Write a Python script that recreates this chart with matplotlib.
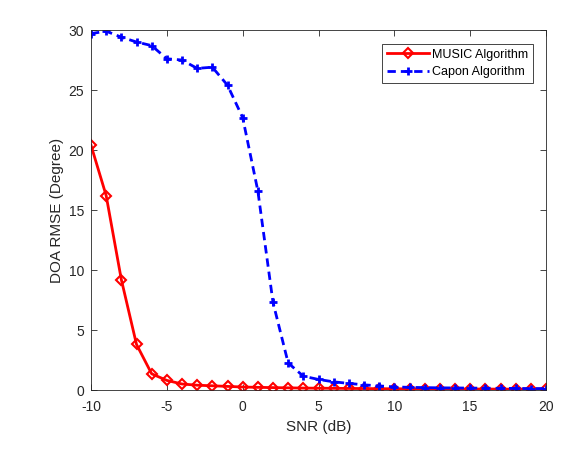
import matplotlib
matplotlib.use("Agg")
import matplotlib.pyplot as plt
from matplotlib.lines import Line2D

snr = list(range(-10, 21))
music = [20.4, 16.2, 9.2, 3.8, 1.35, 0.8, 0.5, 0.4, 0.35, 0.3, 0.25, 0.22, 0.2, 0.18, 0.16,
         0.15, 0.14, 0.13, 0.12, 0.11, 0.1, 0.1, 0.09, 0.09, 0.08, 0.08, 0.08, 0.07, 0.07, 0.07, 0.07]
capon = [29.7, 29.9, 29.4, 29.0, 28.7, 27.6, 27.5, 26.8, 26.9, 25.4, 22.7, 16.6, 7.3, 2.25, 1.15,
         0.88, 0.68, 0.55, 0.43, 0.34, 0.26, 0.22, 0.2, 0.18, 0.17, 0.16, 0.15, 0.14, 0.13, 0.12, 0.12]
xticks = [-10, -5, 0, 5, 10, 15, 20]
yticks = [0, 5, 10, 15, 20, 25, 30]

plt.rcParams['font.family'] = ['Liberation Sans', 'DejaVu Sans']
plt.rcParams['axes.unicode_minus'] = False
TXT = '#262626'

fig = plt.figure(figsize=(5.82, 4.49), dpi=100)
ax = fig.add_axes([91/582, 1-390/449, (546-91)/582, (390-30)/449])

mstyle = dict(color='red', linestyle='-', linewidth=2, marker='D', markersize=5.5,
              markerfacecolor='none', markeredgecolor='red', markeredgewidth=1.5)
cline = dict(color='blue', linestyle='--', linewidth=2, dashes=(3, 1.8))
cmark = dict(color='blue', linestyle='none', marker='+', markersize=6, markeredgewidth=2)

ax.plot(snr, music, **mstyle)
ax.plot(snr, capon, **cline)
ax.plot(snr, capon, **cmark)

ax.set_xlim(-10, 20)
ax.set_ylim(0, 30)
ax.set_xticks(xticks)
ax.set_yticks(yticks)
ax.tick_params(direction='in', top=True, right=True, labelsize=10, length=4, width=0.6,
               colors=TXT, labelcolor=TXT)
ax.tick_params(axis='x', pad=7)
ax.tick_params(axis='y', pad=5)
for s in ax.spines.values():
    s.set_linewidth(0.6)
    s.set_color(TXT)
ax.set_xlabel('SNR (dB)', fontsize=11, color=TXT, labelpad=4.5)
ax.set_ylabel('DOA RMSE (Degree)', fontsize=11, color=TXT, labelpad=3)

h1 = Line2D([], [], **mstyle)
h2 = Line2D([], [], color='blue', linestyle='--', linewidth=2, dashes=(3, 1.8), marker='+',
            markersize=6, markeredgewidth=2)
leg = ax.legend([h1, h2], ['MUSIC Algorithm', 'Capon Algorithm'], loc='upper right',
                fontsize=9, frameon=True, fancybox=False, edgecolor=TXT, framealpha=1,
                borderpad=0.35, borderaxespad=0, handlelength=3.4, handletextpad=0.25,
                labelspacing=0.45, numpoints=1, bbox_to_anchor=(0.971, 0.960))
leg.get_frame().set_linewidth(0.6)
for t in leg.get_texts():
    t.set_color('black')

fig.savefig('out.png', dpi=100)
